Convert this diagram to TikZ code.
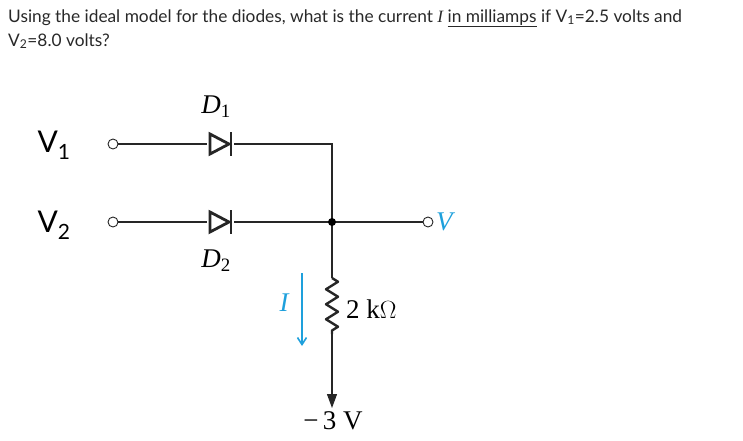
\documentclass[tikz,border=0pt]{standalone}
\usepackage{fontspec}
\setmainfont{Liberation Serif}
\newfontfamily\qfont{Lato}
\usetikzlibrary{arrows.meta,decorations.pathmorphing}
\definecolor{cblue}{RGB}{30,160,220}
\definecolor{txt}{RGB}{40,40,40}
\begin{document}
\begin{tikzpicture}[x=1pt,y=-1pt,
  wire/.style={line width=1.1pt,draw=black!85},
  term/.style={circle,draw=black!85,line width=0.9pt,fill=white,inner sep=0pt,minimum size=10pt},
  lbl/.style={font=\fontsize{27}{32}\selectfont,inner sep=0pt},
  vlab/.style={font=\qfont\fontsize{30}{34}\selectfont,inner sep=0pt}]
\useasboundingbox (0,0) rectangle (743,440);
\node[anchor=base west,inner sep=0pt,font=\qfont\fontsize{17.3}{20}\selectfont,text=txt] (q1) at (8,22)
 {Using the ideal model for the diodes, what is the current {\rmfamily\itshape I} \underline{in milliamps} if V\textsubscript{1}=2.5 volts and};
\node[anchor=base west,inner sep=0pt,font=\qfont\fontsize{17.3}{20}\selectfont,text=txt] (q2) at (8,46) {V\textsubscript{2}=8.0 volts?};
\node[vlab] (v1) at (54,145) {V\textsubscript{1}};
\node[vlab] (v2) at (54,225) {V\textsubscript{2}};
\coordinate (a1) at (113,144);
\coordinate (a2) at (113,222);
\coordinate (c1) at (332,144);
\coordinate (j) at (332,222);
\coordinate (o) at (428,222);
\coordinate (r1) at (332,278);
\coordinate (r2) at (332,334);
\coordinate (bot) at (332,408);
\draw[wire] (a1) -- (c1) -- (j);
\draw[wire] (a2) -- (o);
\draw[wire] (j) -- (r1);
\draw[wire,line width=2.4pt,line join=round,decorate,decoration={zigzag,segment length=15pt,amplitude=6pt}] (r1) -- (r2);
\draw[wire,-{Triangle[length=14pt,width=10pt]}] (r2) -- (bot);
\foreach \y in {144,222}{
  \fill[white] (207,\y-12) rectangle (234,\y+12);
  \draw[line width=2.8pt,black!85,fill=white,line join=miter] (210,\y-10) -- (229,\y) -- (210,\y+10) -- cycle;
  \draw[line width=2.8pt,black!85] (231,\y-12) -- (231,\y+12);
}
\node[term] (t1) at (a1) {};
\node[term] (t2) at (a2) {};
\node[term] (t3) at (o) {};
\fill[black] (j) circle (4pt);
\node[lbl] (d1) at (216,107) {\itshape D\textsubscript{\upshape 1}};
\node[lbl] (d2) at (216,261) {\itshape D\textsubscript{\upshape 2}};
\node[lbl,anchor=west,text=cblue] (vv) at (436,222) {\itshape V};
\node[lbl,anchor=west] (rl) at (346,309) {2 k$\Omega$};
\node[lbl] (m3) at (333,421) {\textminus\,3 V};
\node[lbl,text=cblue] (il) at (284,303) {\itshape I};
\coordinate (ia) at (302,273);
\coordinate (ib) at (302,346);
\draw[cblue,line width=1.6pt,-{Straight Barb[length=7pt,width=9pt]}] (ia) -- (ib);
\end{tikzpicture}
\end{document}
